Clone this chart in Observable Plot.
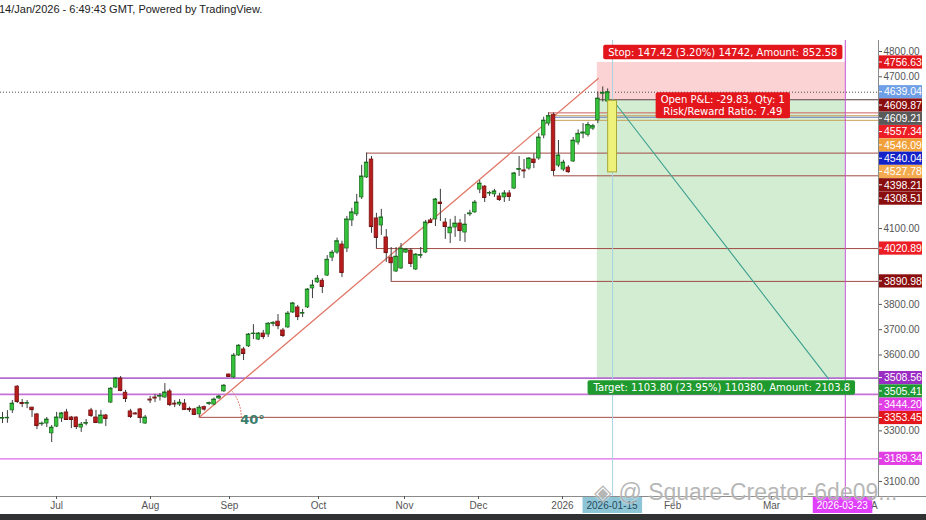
<!DOCTYPE html>
<html><head><meta charset="utf-8">
<script src="https://cdn.jsdelivr.net/npm/d3@7"></script>
<script src="https://cdn.jsdelivr.net/npm/@observablehq/plot@0.6"></script>
<style>
body{margin:0;background:#fff;width:926px;height:520px;overflow:hidden;position:relative;font-family:"Liberation Sans",Arial,sans-serif}
#chart{position:absolute;left:0;top:0}
#hdr{position:absolute;left:-1px;top:3px;font-size:11px;color:#222;white-space:nowrap}
#wm{position:absolute;left:594px;top:479px;font-size:23px;color:rgba(150,150,150,0.7);white-space:nowrap;text-shadow:0 0 2px #fff}
#bar{position:absolute;left:0;top:514px;width:926px;height:6px;background:#2f3133}
</style></head><body>
<div id="chart"></div>
<div id="hdr">14/Jan/2026 - 6:49:43 GMT, Powered by TradingView.</div>
<div id="wm">◈ @ Square-Creator-6de09...</div>
<div id="bar"></div>
<script>
// ---- candle data (bar index 0..123, daily) ----
const open = [3349,3350,3381,3475,3410,3408,3392,3365,3326,3329,
3290,3317,3349,3373,3353,3353,3313,3329,3381,3353,
3329,3361,3412,3471,3507,3451,3377,3369,3385,3329,
3424,3432,3436,3432,3456,3408,3404,3408,3386,3385,
3365,3394,3406,3404,3428,3456,3523,3511,3598,3622,
3634,3683,3661,3685,3681,3724,3732,3697,3709,3768,
3788,3764,3788,3863,3887,3894,3914,3985,4005,4037,
4021,4132,4156,4223,4302,4373,4140,4112,4065,3985,
3930,3942,4005,4013,3938,3993,4005,4132,4136,4203,
4124,4081,4104,4120,4084,4156,4164,4254,4266,4239,
4235,4227,4223,4239,4258,4333,4330,4337,4373,4377,
4468,4515,4550,4349,4333,4341,4365,4440,4475,4470,
4495,4528,4633,4602];
const high = [3373,3380,3420,3479,3424,3420,3394,3369,3335,3353,
3321,3373,3373,3385,3357,3355,3333,3345,3389,3381,
3381,3365,3471,3511,3515,3460,3385,3372,3389,3361,
3436,3444,3448,3487,3464,3420,3424,3424,3394,3389,
3400,3398,3414,3430,3440,3483,3525,3606,3641,3630,
3685,3720,3689,3697,3728,3732,3760,3705,3772,3808,
3796,3780,3863,3895,3914,3902,3993,4013,4062,4050,
4148,4180,4235,4350,4398.21,4385,4160,4176,4096,4025,
4025,4041,4021,4021,4001,4025,4132,4140,4219,4255,
4140,4136,4148,4136,4156,4172,4211,4290,4270,4247,
4255,4239,4250,4250,4322,4385,4373,4381,4395,4475,
4540,4557.34,4557,4448,4370,4349,4460,4490,4515,4520,
4512,4640,4660,4652];
const low = [3329,3330,3369,3408,3392,3388,3353,3305,3318,3313,
3254,3313,3333,3341,3309,3305,3294,3320,3353,3329,
3329,3317,3408,3467,3455,3412,3349,3364,3329,3325,
3408,3412,3418,3428,3396,3392,3396,3381,3373,3361,
3353.45,3378,3400,3400,3424,3452,3511,3507,3594,3578,
3630,3661,3657,3661,3669,3712,3700,3669,3705,3764,
3736,3748,3784,3823,3883,3843,3910,3969,3998,3906,
4005,4108,4148,4215,4298,4081,4020.89,4073,3966,3890.98,
3926,3938,4001,3946,3934,3981,4001,4120,4108,4128,
4057,4041,4065,4049,4045,4148,4160,4238,4203,4227,
4223,4207,4203,4207,4254,4306,4298,4330,4337,4370,
4455,4505,4308.51,4341,4325,4318,4361,4430,4455,4462,
4488,4515,4600,4598];
const close = [3351,3352,3408,3416,3408,3410,3384,3321,3329,3345,
3313,3353,3369,3345,3345,3317,3325,3331,3361,3333,
3361,3349,3467,3507,3460,3428,3357,3367,3353,3353,
3422,3430,3438,3452,3404,3406,3412,3385,3384,3365,
3392,3386,3410,3424,3436,3479,3515,3598,3637,3606,
3681,3685,3685,3673,3724,3726,3716,3677,3764,3804,
3752,3766,3859,3875,3902,3871,3977,4005,4050,3926,
4136,4164,4203,4306,4361,4108,4065,4144,4005,3965,
3989,4021,4017,3962,3997,3995,4124,4124,4215,4199,
4108,4104,4120,4092,4116,4160,4203,4278,4223,4241,
4247,4215,4239,4227,4318,4335,4328,4377,4361,4460,
4527,4545,4330,4389,4361,4325,4448,4475,4480,4510,
4505,4614,4637,4639.04];

// ---- axis ticks ----
const xTickIdx = [10.98,30.08,46.14,64.23,81.71,96.75,113.82,136.2,156.3,177.2];
const xTickLabels = ["Jul","Aug","Sep","Oct","Nov","Dec","2026","Feb","Mar","A"];
const yTicks = d3.range(3100, 4801, 100);

// ---- drawn levels (price, first bar index) ----
const levelValues = [4398.21,4308.51,4020.89,3890.98,3353.45,3508.56,3444.20,3189.34,4609.87,4609.21,4557.34,4546.09,4540.04,4527.78];
const levelStart  = [74,112,76,79,40,null,null,null,120.9,120.9,111,111,111,111];
const levelColor  = ["#a24c46","#a24c46","#a24c46","#a24c46","#a24c46","#b46ccf","#c572d6","#e06ae8","#8c2a2a","#7a7a7a","#d06060","#c9a25a","#6a78b8","#c9a25a"];
const levelWidth  = [1,1,1,1,1,1.7,1.7,1.2,1,1,1,1,1,1];

// ---- price-axis labels ----
const priceLabels = [4756.63,4639.04,4609.87,4609.21,4557.34,4546.09,4540.04,4527.78,4398.21,4308.51,4020.89,3890.98,3508.56,3505.41,3444.20,3353.45,3189.34];
const priceLabelBg = ["#e3161c","#6f9fe6","#8a0e0e","#5a5a5a","#ee1d25","#f2a13a","#1222c8","#f4aa4e","#8a0e0e","#8a0e0e","#ec1d25","#8a0e0e","#9b2cc4","#1f9a34","#e23ee6","#e3161c","#e23ee6"];

// ---- short position tool ----
const entry = 4609.21, stop = 4756.63, target = 3505.41, current = 4639.04;
const posStart = 120.9, posEnd = 171.3;
const stopText = "Stop: 147.42 (3.20%) 14742, Amount: 852.58";
const targetText = "Target: 1103.80 (23.95%) 110380, Amount: 2103.8";
const pnlText = ["Open P&L: -29.83, Qty: 1", "Risk/Reward Ratio: 7.49"];

// ---- other drawings ----
const trendFrom = {i: 40, v: 3353.45}, trendTo = {i: 121.1, v: 4693};
const angleDeg = 40;
const highlight = {i1: 123.1, i2: 124.9, v1: 4322, v2: 4605};
const cursorIdx = 124, cursorLabel = "2026-01-15";
const markerIdx = 171.3, markerLabel = "2026-03-23";
const tealFrom = {i: 124, v: entry}, tealTo = {i: 167.9, v: target};

// ---- layout ----
const W = 926, H = 520, mL = 0, mR = 48, mT = 40, mB = 24;
const xDom = [-0.407, 178.05], yDom = [3040.5, 4843.5];
const pxPerI = (W - mL - mR) / (xDom[1] - xDom[0]);
const pxPerV = (H - mT - mB) / (yDom[1] - yDom[0]);

const bars = open.map((o, i) => ({i, o, h: high[i], l: low[i], c: close[i], up: close[i] >= o}));
const levels = levelValues.map((v, k) => ({v, from: levelStart[k] == null ? xDom[0] : levelStart[k], col: levelColor[k], w: levelWidth[k]}));

const arcR = 42;
const arc = d3.range(0, angleDeg + 0.1, 2).map(a => ({
  i: trendFrom.i + arcR * Math.cos(a * Math.PI / 180) / pxPerI,
  v: trendFrom.v + arcR * Math.sin(a * Math.PI / 180) / pxPerV
}));

const GREEN = "#34c23a", GREEN_S = "#1c6c21", RED = "#b81d1d", RED_S = "#731010", WICK = "#3d3d3d";

const chart = Plot.plot({
  width: W, height: H, marginLeft: mL, marginRight: mR, marginTop: mT, marginBottom: mB,
  style: {fontFamily: "'Liberation Sans', Arial, sans-serif", fontSize: "10px", color: "#555", background: "#fff", overflow: "visible"},
  x: {type: "linear", domain: xDom, axis: null},
  y: {type: "linear", domain: yDom, axis: null},
  marks: [
    Plot.rect([{a: entry, b: stop}], {x1: () => posStart, x2: () => posEnd, y1: "a", y2: "b", fill: "#fcd3d5"}),
    Plot.rect([{a: target, b: entry}], {x1: () => posStart, x2: () => posEnd, y1: "a", y2: "b", fill: "#d2edd2"}),
    Plot.ruleY(levels, {y: "v", x1: "from", x2: () => xDom[1], stroke: "col", strokeWidth: "w"}),
    Plot.ruleY([current], {x1: () => xDom[0], x2: () => xDom[1], stroke: "#4a4a4a", strokeDasharray: "1,2", strokeWidth: 1}),
    Plot.ruleX([cursorIdx], {stroke: "#a9d3e0", strokeWidth: 1}),
    Plot.ruleX([markerIdx], {stroke: "#c24fd2", strokeWidth: 1}),
    Plot.line([trendFrom, trendTo], {x: "i", y: "v", stroke: "#e07868", strokeWidth: 1.3}),
    Plot.line(arc, {x: "i", y: "v", stroke: "#e07868", strokeWidth: 1, strokeDasharray: "1,2"}),
    Plot.text([{i: trendFrom.i + 10.8, v: trendFrom.v}], {x: "i", y: "v", text: () => angleDeg + "°", dy: 2, fill: "#3b7c6b", fontSize: 13, fontWeight: "bold", fontFamily: "DejaVu Sans"}),
    Plot.line([tealFrom, tealTo], {x: "i", y: "v", stroke: "#3a9e8e", strokeWidth: 1.1}),
    Plot.ruleX(bars, {x: "i", y1: "l", y2: "h", stroke: WICK, strokeWidth: 1}),
    Plot.rect(bars, {x1: d => d.i - 0.37, x2: d => d.i + 0.37, y1: d => Math.min(d.o, d.c), y2: d => Math.max(d.o, d.c),
      fill: d => d.up ? GREEN : RED, stroke: d => d.up ? GREEN_S : RED_S, strokeWidth: 0.7}),
    Plot.ruleY(bars, {y: "c", x1: d => d.i - 0.42, x2: d => d.i + 0.42, stroke: d => d.up ? GREEN_S : RED_S, strokeWidth: 1}),
    Plot.rect([highlight], {x1: "i1", x2: "i2", y1: "v1", y2: "v2", fill: "#eef27a", stroke: "#a8a838", strokeWidth: 1}),
    Plot.ruleX([xDom[1]], {stroke: "#8a8a8a"}),
    Plot.ruleY([yDom[0]], {x1: () => xDom[0], x2: () => xDom[1] + mR / pxPerI, stroke: "#8a8a8a"}),
    Plot.axisY({anchor: "right", ticks: yTicks, tickFormat: d => d.toFixed(2), tickSize: 3, tickPadding: 2, color: "#555", fontSize: 10}),
    Plot.axisX({ticks: xTickIdx, tickFormat: (d, i) => xTickLabels[i], tickSize: 3, tickPadding: 2, color: "#555", fontSize: 10})
  ]
});
document.getElementById("chart").appendChild(chart);

const svg = d3.select(chart);
const X = chart.scale("x"), Y = chart.scale("y");
const FONT = "DejaVu Sans";

// price axis labels, stacked to avoid overlap
const pl = priceLabels.map((v, k) => ({v, bg: priceLabelBg[k], py: Y.apply(v)})).sort((a, b) => a.py - b.py);
let prev = -Infinity;
pl.forEach(d => { d.sy = Math.max(d.py, prev + 13.3); prev = d.sy; });

// axis tick labels that sit under a price label are hidden, as in TradingView
svg.selectAll("text").each(function() {
  const t = this.textContent;
  if (!/^\d{4}\.00$/.test(t)) return;
  const ty = Y.apply(+t);
  if (pl.some(d => Math.abs(d.sy - ty) < 9)) d3.select(this).remove();
});

const gl = svg.append("g").attr("text-anchor", "start");
pl.forEach(d => {
  gl.append("rect").attr("x", 879).attr("y", d.sy - 6.6).attr("width", 43).attr("height", 13.2).attr("fill", d.bg);
  gl.append("line").attr("x1", 879).attr("x2", 882).attr("y1", d.sy).attr("y2", d.sy).attr("stroke", "#fff");
  gl.append("text").attr("x", 884).attr("y", d.sy).attr("dy", "0.36em").attr("fill", "#fff").attr("text-anchor", "start")
    .attr("font-family", "'Liberation Sans', Arial").attr("font-size", 10.5).text(d.v.toFixed(2));
});

function pill(cx, cy, lines, bg, fg, pad) {
  const g = svg.append("g");
  const lh = 11.5;
  const rect = g.append("rect");
  let minX = Infinity, maxX = -Infinity;
  lines.forEach((t, k) => {
    const tx = g.append("text").attr("x", cx).attr("y", cy + (k - (lines.length - 1) / 2) * lh).attr("dy", "0.36em")
      .attr("text-anchor", "middle").attr("fill", fg).attr("font-family", FONT).attr("font-size", 10).text(t);
    const bb = tx.node().getBBox();
    minX = Math.min(minX, bb.x); maxX = Math.max(maxX, bb.x + bb.width);
  });
  const h = lines.length * lh + 3;
  rect.attr("x", minX - pad).attr("y", cy - h / 2).attr("width", maxX - minX + 2 * pad).attr("height", h).attr("rx", 2).attr("fill", bg);
}
const pcx = (X.apply(posStart) + X.apply(posEnd)) / 2;
pill(pcx + 2, Y.apply(stop) - 10, [stopText], "#e3161c", "#fff", 5);
pill(pcx + 1, Y.apply(target) + 9, [targetText], "#1f9a2e", "#fff", 5);
pill(pcx + 2, Y.apply(entry) + 6, pnlText, "#e3161c", "#fff", 5);

// date boxes on the time axis
function dateBox(i, label, bg, fg) {
  const g = svg.append("g");
  const cx = X.apply(i), cy = 505;
  const r = g.append("rect");
  const t = g.append("text").attr("x", cx).attr("y", cy).attr("dy", "0.36em").attr("text-anchor", "middle")
    .attr("fill", fg).attr("font-family", "'Liberation Sans', Arial").attr("font-size", 10).text(label);
  const bb = t.node().getBBox();
  r.attr("x", bb.x - 4).attr("y", 497).attr("width", bb.width + 8).attr("height", 16).attr("fill", bg);
}
dateBox(cursorIdx, cursorLabel, "#8ec5d6", "#26495a");
dateBox(markerIdx - 0.5, markerLabel, "#e040fb", "#fff");
</script>
</body></html>
